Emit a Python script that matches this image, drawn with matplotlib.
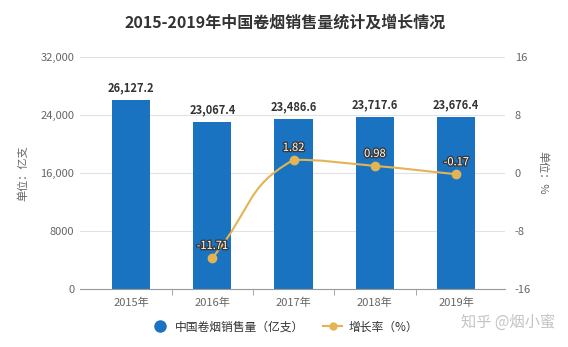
import matplotlib
matplotlib.use("Agg")
import matplotlib.pyplot as plt
import matplotlib.patheffects as pe
from matplotlib.path import Path
from matplotlib.patches import PathPatch
from matplotlib.lines import Line2D
import numpy as np

plt.rcParams['font.family'] = ['Noto Sans CJK SC', 'DejaVu Sans']

years = ['2015年', '2016年', '2017年', '2018年', '2019年']
sales = [26127.2, 23067.4, 23486.6, 23717.6, 23676.4]
growth = [None, -11.71, 1.82, 0.98, -0.17]
sales_labels = ['26,127.2', '23,067.4', '23,486.6', '23,717.6', '23,676.4']
left_ticks = [0, 8000, 16000, 24000, 32000]
left_tick_labels = ['0', '8000', '16,000', '24,000', '32,000']
right_ticks = [-16, -8, 0, 8, 16]

BAR = '#1a73c1'
GOLD = '#e3b454'
TXT = '#333333'
TICK = '#666666'

fig = plt.figure(figsize=(5.68, 3.47), dpi=100)
ax = fig.add_axes([80 / 568, 1 - 289 / 347, 425 / 568, 232 / 347])
ax2 = ax.twinx()

x = np.arange(len(years))
ax.bar(x, sales, width=0.47, color=BAR, zorder=2)
ax.set_xlim(-0.627, 4.6)
ax.set_ylim(0, 32000)
ax.set_yticks(left_ticks)
ax.set_yticklabels(left_tick_labels)
ax.set_xticks(x)
ax.set_xticklabels(years)
ax.set_xticks(np.arange(len(years) - 1) + 0.5, minor=True)
ax.tick_params(axis='x', which='major', length=0, pad=6, labelsize=8, colors=TICK)
ax.tick_params(axis='x', which='minor', length=4, color='#999999')
ax.tick_params(axis='y', length=0, pad=4, labelsize=8, colors=TICK)
ax.grid(axis='y', color='#e2e2e2', linewidth=0.8, zorder=0)
ax.set_axisbelow(True)
for s in ['top', 'left', 'right']:
    ax.spines[s].set_visible(False)
ax.spines['bottom'].set_color('#999999')
ax.spines['bottom'].set_linewidth(0.8)
ax.set_ylabel('单位：亿支', color=TICK, fontsize=8, labelpad=9)

for xi, v, lab in zip(x, sales, sales_labels):
    ax.annotate(lab, (xi, v), xytext=(0, 4), textcoords='offset points',
                ha='center', va='bottom', fontsize=8, fontweight='bold', color=TXT)

ax2.set_ylim(-16, 16)
ax2.set_yticks(right_ticks)
ax2.set_yticklabels([str(t) for t in right_ticks])
ax2.tick_params(axis='y', length=0, pad=7, labelsize=8, colors=TICK)
for s in ['top', 'left', 'right', 'bottom']:
    ax2.spines[s].set_visible(False)
ax2.set_ylabel('单位：%', color=TICK, fontsize=8, rotation=270, labelpad=12)

# smoothed growth line: bezier control points in pixel space,
# clamped to the bounding box of the points so the curve never overshoots
gx = np.array([i for i, g in enumerate(growth) if g is not None], dtype=float)
gy = np.array([g for g in growth if g is not None], dtype=float)
sx, sy = 81.3, 232 / 32.0
P = np.column_stack([gx * sx, gy * sy])
lo, hi = P.min(axis=0), P.max(axis=0)
smooth = 0.5
cps = []
n = len(P)
for i in range(n):
    p1 = P[i]
    p0 = P[i - 1] if i > 0 else p1
    p2 = P[i + 1] if i < n - 1 else p1
    v = (p2 - p0) * smooth
    d0 = np.linalg.norm(p1 - p0)
    d2 = np.linalg.norm(p1 - p2)
    tot = d0 + d2
    if tot:
        d0 /= tot
        d2 /= tot
    c0 = np.clip(p1 - v * d0, lo, hi)
    c1 = np.clip(p1 + v * d2, lo, hi)
    cps.append((c0, c1))
verts = [P[0]]
codes = [Path.MOVETO]
for i in range(n - 1):
    verts += [cps[i][1], cps[i + 1][0], P[i + 1]]
    codes += [Path.CURVE4] * 3
verts = np.array(verts) / np.array([sx, sy])
ax2.add_patch(PathPatch(Path(verts, codes), facecolor='none', edgecolor=GOLD,
                        linewidth=1.5, zorder=3))
ax2.plot(gx, gy, 'o', color=GOLD, markersize=6, zorder=4)
for xi, g in zip(gx, gy):
    t = ax2.annotate(f'{g:.2f}', (xi, g), xytext=(0, 5), textcoords='offset points',
                     ha='center', va='bottom', fontsize=8, color='white', zorder=5)
    t.set_path_effects([pe.withStroke(linewidth=2, foreground='#3a3a3a')])

fig.text(0.502, 0.935, '2015-2019年中国卷烟销售量统计及增长情况', ha='center', va='center',
         fontsize=11.5, fontweight='bold', color=TXT)

handles = [
    Line2D([], [], marker='o', linestyle='none', color=BAR, markersize=8),
    Line2D([], [], marker='o', color=GOLD, markersize=5, linewidth=1.5),
]
fig.legend(handles, ['中国卷烟销售量（亿支）', '增长率（%）'], loc='center',
           bbox_to_anchor=(0.5, 0.058), ncol=2, frameon=False, fontsize=8.5,
           handlelength=1.6, columnspacing=1.6, labelcolor=TXT, handletextpad=0.5)

fig.text(0.978, 0.07, '知乎 @烟小蜜', ha='right', va='center', fontsize=11, color='#c4c4c4')

fig.savefig('out.png', dpi=100)
